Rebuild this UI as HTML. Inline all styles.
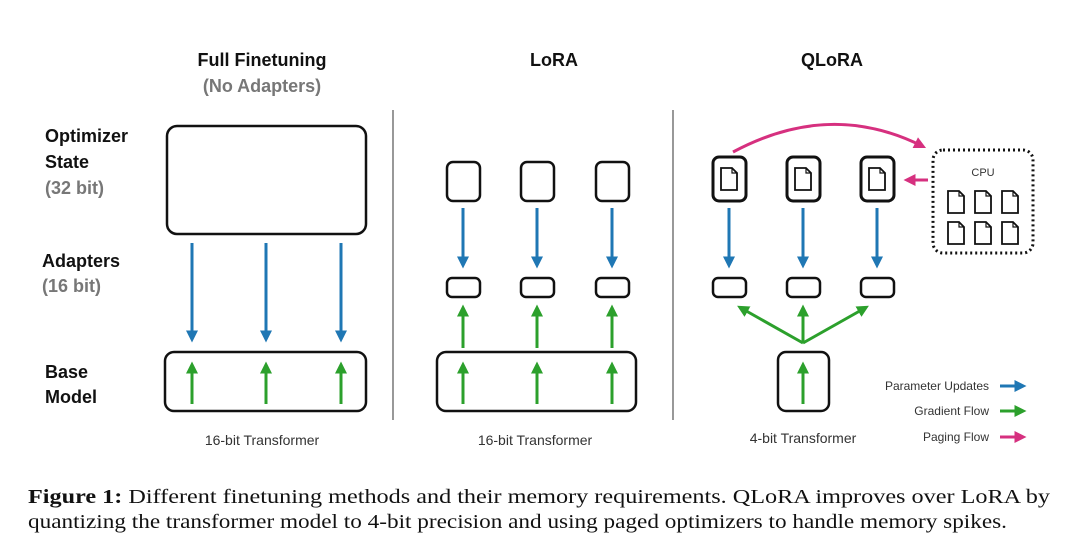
<!DOCTYPE html>
<html><head><meta charset="utf-8"><style>
body{margin:0;background:#fff;width:1080px;height:548px;overflow:hidden}
svg text{font-family:"Liberation Sans",sans-serif}
svg text.cap{font-family:"Liberation Serif",serif}
</style></head><body>
<svg width="1080" height="548" viewBox="0 0 1080 548" xmlns="http://www.w3.org/2000/svg">
<defs>
<marker id="b" markerWidth="4" markerHeight="4" refX="2.5" refY="2" orient="auto" markerUnits="strokeWidth"><path d="M0,0 L4,2 L0,4 Z" fill="#1f77b4"/></marker>
<marker id="g" markerWidth="4" markerHeight="4" refX="2.5" refY="2" orient="auto" markerUnits="strokeWidth"><path d="M0,0 L4,2 L0,4 Z" fill="#2ca02c"/></marker>
<marker id="p" markerWidth="4" markerHeight="4" refX="2.5" refY="2" orient="auto" markerUnits="strokeWidth"><path d="M0,0 L4,2 L0,4 Z" fill="#d6307f"/></marker>
<g id="doc"><path d="M0,0 H11 L16,5 V22 H0 Z" fill="#fff" stroke="#111" stroke-width="1.8"/><path d="M11,0 V5 H16" fill="none" stroke="#111" stroke-width="1.2"/></g>
</defs>
<g font-weight="bold" font-size="18" fill="#111">
<text x="262" y="66" text-anchor="middle">Full Finetuning</text>
<text x="262" y="92" text-anchor="middle" fill="#777">(No Adapters)</text>
<text x="554" y="66" text-anchor="middle">LoRA</text>
<text x="832" y="66" text-anchor="middle">QLoRA</text>
<text x="45" y="142">Optimizer</text><text x="45" y="168">State</text>
<text x="45" y="194" fill="#777">(32 bit)</text>
<text x="42" y="267">Adapters</text><text x="42" y="292" fill="#777">(16 bit)</text>
<text x="45" y="378">Base</text><text x="45" y="403">Model</text>
</g>
<line x1="393" y1="110" x2="393" y2="420" stroke="#555" stroke-width="1.2"/>
<line x1="673" y1="110" x2="673" y2="420" stroke="#555" stroke-width="1.2"/>
<g fill="none" stroke="#111" stroke-width="2.5">
<rect x="167" y="126" width="199" height="108" rx="10"/>
<rect x="165" y="352" width="201" height="59" rx="9"/>
<rect x="447" y="162" width="33" height="39" rx="6"/><rect x="521" y="162" width="33" height="39" rx="6"/><rect x="596" y="162" width="33" height="39" rx="6"/>
<rect x="447" y="278" width="33" height="19" rx="5"/><rect x="521" y="278" width="33" height="19" rx="5"/><rect x="596" y="278" width="33" height="19" rx="5"/>
<rect x="437" y="352" width="199" height="59" rx="9"/>
<rect x="713" y="157" width="33" height="44" rx="6" stroke-width="3"/><rect x="787" y="157" width="33" height="44" rx="6" stroke-width="3"/><rect x="861" y="157" width="33" height="44" rx="6" stroke-width="3"/>
<rect x="713" y="278" width="33" height="19" rx="5"/><rect x="787" y="278" width="33" height="19" rx="5"/><rect x="861" y="278" width="33" height="19" rx="5"/>
<rect x="778" y="352" width="51" height="59" rx="8"/>
<rect x="933" y="150" width="100" height="103" rx="10" stroke-width="3" stroke-dasharray="2 3"/>
</g>
<use href="#doc" x="721" y="168"/><use href="#doc" x="795" y="168"/><use href="#doc" x="869" y="168"/>
<use href="#doc" x="948" y="191"/><use href="#doc" x="975" y="191"/><use href="#doc" x="1002" y="191"/>
<use href="#doc" x="948" y="222"/><use href="#doc" x="975" y="222"/><use href="#doc" x="1002" y="222"/>
<text x="983" y="176" font-size="11" text-anchor="middle" fill="#333">CPU</text>
<g stroke="#1f77b4" stroke-width="3" marker-end="url(#b)">
<line x1="192" y1="243" x2="192" y2="338"/><line x1="266" y1="243" x2="266" y2="338"/><line x1="341" y1="243" x2="341" y2="338"/>
<line x1="463" y1="208" x2="463" y2="264"/><line x1="537" y1="208" x2="537" y2="264"/><line x1="612" y1="208" x2="612" y2="264"/>
<line x1="729" y1="208" x2="729" y2="264"/><line x1="803" y1="208" x2="803" y2="264"/><line x1="877" y1="208" x2="877" y2="264"/>
<line x1="1000" y1="386" x2="1022" y2="386"/>
</g>
<g stroke="#2ca02c" stroke-width="3" marker-end="url(#g)">
<line x1="192" y1="404" x2="192" y2="366"/><line x1="266" y1="404" x2="266" y2="366"/><line x1="341" y1="404" x2="341" y2="366"/>
<line x1="463" y1="404" x2="463" y2="366"/><line x1="537" y1="404" x2="537" y2="366"/><line x1="612" y1="404" x2="612" y2="366"/>
<line x1="463" y1="348" x2="463" y2="309"/><line x1="537" y1="348" x2="537" y2="309"/><line x1="612" y1="348" x2="612" y2="309"/>
<line x1="803" y1="404" x2="803" y2="366"/>
<line x1="803" y1="343" x2="741" y2="308"/><line x1="803" y1="343" x2="803" y2="309"/><line x1="803" y1="343" x2="865" y2="308"/>
<line x1="1000" y1="411" x2="1022" y2="411"/>
</g>
<g stroke="#d6307f" stroke-width="3" fill="none" marker-end="url(#p)">
<path d="M733,152 Q830,100 922,146"/>
<line x1="928" y1="180" x2="908" y2="180"/>
<line x1="1000" y1="437" x2="1022" y2="437"/>
</g>
<g font-size="12" fill="#333" text-anchor="end">
<text x="989" y="390">Parameter Updates</text>
<text x="989" y="415">Gradient Flow</text>
<text x="989" y="441">Paging Flow</text>
</g>
<g font-size="14" fill="#333" text-anchor="middle">
<text x="262" y="445">16-bit Transformer</text>
<text x="535" y="445">16-bit Transformer</text>
<text x="803" y="443">4-bit Transformer</text>
</g>
<g font-size="20" fill="#111">
<text class="cap" x="28" y="503" textLength="1022" lengthAdjust="spacingAndGlyphs"><tspan font-weight="bold">Figure 1:</tspan> Different finetuning methods and their memory requirements. QLoRA improves over LoRA by</text>
<text class="cap" x="28" y="528" textLength="979" lengthAdjust="spacingAndGlyphs">quantizing the transformer model to 4-bit precision and using paged optimizers to handle memory spikes.</text>
</g>
</svg>
</body></html>
